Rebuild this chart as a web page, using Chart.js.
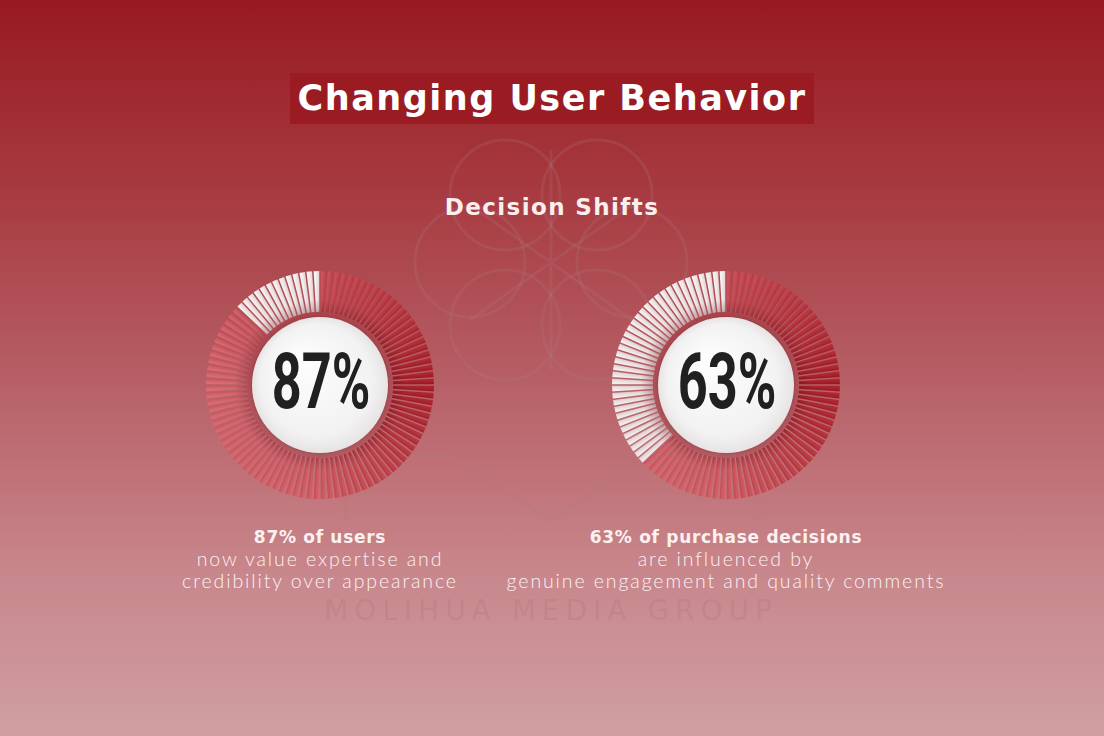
<!DOCTYPE html>
<html>
<head>
<meta charset="utf-8">
<script src="https://cdn.jsdelivr.net/npm/chart.js@4"></script>
<style>
  html, body { margin: 0; padding: 0; }
  body {
    width: 1104px; height: 736px; overflow: hidden; position: relative;
    background: linear-gradient(180deg, #981a21 0%, #a6393f 25%, #b9646b 55%, #c8878c 78%, #d09fa2 100%);
    font-family: "DejaVu Sans", sans-serif;
  }
  .title {
    position: absolute; left: 290px; top: 73px; width: 524px; height: 51px;
    background: #9a1b22; color: #fff; font-weight: bold; font-size: 35px;
    line-height: 51px; text-align: center; letter-spacing: 1.5px;
  }
  .sub {
    position: absolute; left: 0; width: 1104px; top: 194px; text-align: center;
    color: #fbeeee; font-weight: bold; font-size: 23px; letter-spacing: 1.4px;
  }
  .cap {
    position: absolute; top: 525px; width: 560px; text-align: center;
    color: #fcf1f1; font-family: "Lato", sans-serif; font-size: 19.5px; line-height: 22px;
    letter-spacing: 1.9px;
  }
  .cap b { font-family: "DejaVu Sans", sans-serif; font-size: 17px; letter-spacing: 0.7px; }
  .cap span { font-weight: 300; }
  canvas.dn { position: absolute; }
  #wm { position: absolute; left: 0; top: 0; }
</style>
</head>
<body>
<svg id="wm" width="1104" height="736">
  <g fill="none" stroke="rgba(175,125,130,0.2)" stroke-width="3">
    <circle cx="505" cy="195" r="55"/>
    <circle cx="597" cy="195" r="55"/>
    <circle cx="470" cy="262" r="55"/>
    <circle cx="632" cy="262" r="55"/>
    <circle cx="505" cy="325" r="55"/>
    <circle cx="597" cy="325" r="55"/>
    <path d="M551 150 L551 370 M470 205 L632 320 M632 205 L470 320"/>
    <path d="M345 520 L345 455 L450 455 L551 520 L652 455 L760 455 L760 520"/>
  </g>
  <text x="551" y="620" text-anchor="middle" font-family="DejaVu Sans" font-size="28"
        letter-spacing="6" fill="rgba(160,110,115,0.22)">MOLIHUA MEDIA GROUP</text>
</svg>

<div class="title">Changing User Behavior</div>
<div class="sub">Decision Shifts</div>

<canvas class="dn" id="d1" width="240" height="240" style="left:200px;top:265px"></canvas>
<canvas class="dn" id="d2" width="240" height="240" style="left:606px;top:265px"></canvas>

<div class="cap" style="left:40px"><b>87% of users</b><br><span>now value expertise and<br>credibility over appearance</span></div>
<div class="cap" style="left:446px"><b>63% of purchase decisions</b><br><span>are influenced by<br>genuine engagement and quality comments</span></div>

<script>
// data
const labels = ['Yes', 'Other'];
const percents = [87, 63];
const centerLabels = ['87%', '63%'];
const tickCount = 100;

function centerOf(chart) {
  const a = chart.chartArea;
  if (!a) return { x: chart.width / 2, y: chart.height / 2 };
  return { x: (a.left + a.right) / 2, y: (a.top + a.bottom) / 2 };
}

// red ring shading + white rest
function ringColor(ctx) {
  const chart = ctx.chart;
  const { x, y } = centerOf(chart);
  const c = chart.ctx;
  if (ctx.dataIndex === 1) {
    const g = c.createConicGradient(-Math.PI / 2, x, y);
    g.addColorStop(0, '#f1eaea');
    g.addColorStop(0.7, '#f5f1f1');
    g.addColorStop(1, '#fdfbfb');
    return g;
  }
  const g = c.createConicGradient(-Math.PI / 2, x, y);
  g.addColorStop(0, '#cd4751');
  g.addColorStop(0.25, '#a5121d');
  g.addColorStop(0.5, '#d5565f');
  g.addColorStop(0.75, '#dc646d');
  g.addColorStop(1, '#cd4751');
  return g;
}

const ringPlugin = {
  id: 'ring',
  afterDatasetsDraw(chart) {
    const arc = chart.getDatasetMeta(0).data[0];
    const { x, y, innerRadius, outerRadius } = arc;
    const c = chart.ctx;
    c.save();
    // fin shading inside each tick
    const fin = c.createConicGradient(-Math.PI / 2, x, y);
    for (let i = 0; i < tickCount; i++) {
      fin.addColorStop(i / tickCount, 'rgba(255,255,255,0.08)');
      fin.addColorStop((i + 0.98) / tickCount, 'rgba(90,0,10,0.18)');
    }
    c.globalCompositeOperation = 'source-atop';
    c.fillStyle = fin;
    c.fillRect(0, 0, chart.width, chart.height);
    // shadow near inner edge
    const sh = c.createRadialGradient(x, y, innerRadius, x, y, outerRadius);
    sh.addColorStop(0, 'rgba(90,10,20,0.3)');
    sh.addColorStop(0.3, 'rgba(90,10,20,0.04)');
    sh.addColorStop(1, 'rgba(90,10,20,0)');
    c.fillStyle = sh;
    c.fillRect(0, 0, chart.width, chart.height);
    // gaps between ticks
    c.globalCompositeOperation = 'destination-out';
    c.strokeStyle = '#000';
    c.lineWidth = 1.5;
    c.beginPath();
    for (let i = 0; i < tickCount; i++) {
      const a = -Math.PI / 2 + i * 2 * Math.PI / tickCount;
      c.moveTo(x + Math.cos(a) * (innerRadius - 1), y + Math.sin(a) * (innerRadius - 1));
      c.lineTo(x + Math.cos(a) * (outerRadius + 1), y + Math.sin(a) * (outerRadius + 1));
    }
    c.stroke();
    c.globalCompositeOperation = 'source-over';
    // dark band + white disc
    c.beginPath();
    c.arc(x, y, innerRadius, 0, Math.PI * 2);
    c.fillStyle = 'rgba(150,35,45,0.25)';
    c.fill();
    const disc = c.createRadialGradient(x - 20, y - 25, 5, x, y, 68);
    disc.addColorStop(0, '#fdfdfd');
    disc.addColorStop(0.8, '#f3f2f2');
    disc.addColorStop(1, '#e6e3e3');
    c.beginPath();
    c.arc(x, y, 68, 0, Math.PI * 2);
    c.shadowColor = 'rgba(80,0,10,0.25)';
    c.shadowBlur = 5;
    c.fillStyle = disc;
    c.fill();
    c.shadowBlur = 0;
    // center number
    const txt = chart.options.plugins.ring.text;
    c.translate(x + 1, y);
    c.scale(0.67, 1);
    c.fillStyle = '#202020';
    c.font = 'bold 78px Roboto, "Liberation Sans", sans-serif';
    c.textAlign = 'center';
    c.textBaseline = 'middle';
    c.fillText(txt, 0, 3);
    c.restore();
  }
};

function makeDonut(id, i) {
  new Chart(document.getElementById(id), {
    type: 'doughnut',
    data: {
      labels: labels,
      datasets: [{
        data: [percents[i], 100 - percents[i]],
        backgroundColor: ringColor,
        borderWidth: 0
      }]
    },
    options: {
      responsive: false,
      animation: false,
      cutout: 77,
      radius: 114,
      layout: { padding: 0 },
      events: [],
      plugins: {
        legend: { display: false },
        tooltip: { enabled: false },
        ring: { text: centerLabels[i] }
      }
    },
    plugins: [ringPlugin]
  });
}

makeDonut('d1', 0);
makeDonut('d2', 1);
</script>
</body>
</html>
